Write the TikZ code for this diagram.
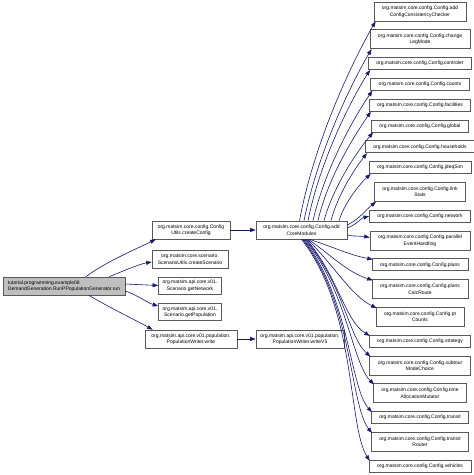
\documentclass[tikz,border=0pt]{standalone}
\usepackage{fontspec}
\setmainfont{Liberation Sans}
\usetikzlibrary{arrows.meta,calc}
\definecolor{edgeblue}{RGB}{25,25,112}
\definecolor{rootgray}{RGB}{191,191,191}
\tikzset{
  nbox/.style={draw=black!65, line width=0.7pt, fill=white, font=\fontsize{5}{6.5}\selectfont, align=center, inner xsep=8pt, inner ysep=0pt, minimum height=12pt},
  dbl/.style={minimum height=19pt},
  cbox/.style={nbox, inner xsep=0pt, minimum height=18pt},
  rootbox/.style={cbox, fill=rootgray, align=left},
  edge/.style={draw=edgeblue, line width=0.6pt, -{Triangle[length=5.5pt,width=4pt]}}
}
\begin{document}
\begin{tikzpicture}[x=1pt,y=-1pt]
\useasboundingbox (0,0) rectangle (474,475);
\fill[white] (0,0) rectangle (474,475);
% left part
\node[rootbox, minimum width=122pt] (r) at (64,286) {tutorial.programming.example08\\DemandGeneration.RunPPopulationGenerator.run};
\node[cbox, minimum width=78pt] (c1) at (191,230) {org.matsim.core.config.Config\\Utils.createConfig};
\node[cbox, minimum width=76pt] (c2) at (190,259) {org.matsim.core.scenario.\\ScenarioUtils.createScenario};
\node[cbox, minimum width=63pt, minimum height=17pt] (c3) at (190,285.5) {org.matsim.api.core.v01.\\Scenario.getNetwork};
\node[cbox, minimum width=63pt, minimum height=17pt] (c4) at (190,312) {org.matsim.api.core.v01.\\Scenario.getPopulation};
\node[cbox, minimum width=92pt] (c5) at (191,339) {org.matsim.api.core.v01.population.\\PopulationWriter.write};
\node[cbox, minimum width=91pt] (d1) at (301.5,230) {org.matsim.core.config.Config.add\\CoreModules};
\node[cbox, minimum width=88pt] (d2) at (300,339) {org.matsim.api.core.v01.population.\\PopulationWriter.writeV5};
% right column
\node[nbox,dbl] (t1) at (420,11.5) {org.matsim.core.config.Config.add\\ConfigConsistencyChecker};
\node[nbox,dbl] (t2) at (420,39.3) {org.matsim.core.config.Config.change\\LegMode};
\node[nbox] (t3) at (420,63.6) {org.matsim.core.config.Config.controler};
\node[nbox] (t4) at (420,84.4) {org.matsim.core.config.Config.counts};
\node[nbox] (t5) at (420,105.2) {org.matsim.core.config.Config.facilities};
\node[nbox] (t6) at (420,126) {org.matsim.core.config.Config.global};
\node[nbox] (t7) at (420,146.8) {org.matsim.core.config.Config.households};
\node[nbox] (t8) at (420,167.6) {org.matsim.core.config.Config.jdeqSim};
\node[nbox,dbl] (t9) at (420,191.9) {org.matsim.core.config.Config.link\\Stats};
\node[nbox] (t10) at (420,216.2) {org.matsim.core.config.Config.network};
\node[nbox,dbl] (t11) at (420,240.5) {org.matsim.core.config.Config.parallel\\EventHandling};
\node[nbox] (t12) at (420,264.8) {org.matsim.core.config.Config.plans};
\node[nbox,dbl] (t13) at (420,289.1) {org.matsim.core.config.Config.plans\\CalcRoute};
\node[nbox,dbl] (t14) at (420,316.9) {org.matsim.core.config.Config.pt\\Counts};
\node[nbox] (t15) at (420,341.2) {org.matsim.core.config.Config.strategy};
\node[nbox,dbl] (t16) at (420,365.5) {org.matsim.core.config.Config.subtour\\ModeChoice};
\node[nbox,dbl] (t17) at (420,393.3) {org.matsim.core.config.Config.time\\AllocationMutator};
\node[nbox] (t18) at (420,417.6) {org.matsim.core.config.Config.transit};
\node[nbox,dbl] (t19) at (420,441.9) {org.matsim.core.config.Config.transit\\Router};
\node[nbox] (t20) at (420,466.2) {org.matsim.core.config.Config.vehicles};
% root edges
\draw[edge] ($(r.north)+(22,0)$) .. controls +(20,-15) and +(-20,10) .. ($(c1.south west)+(4,0)$);
\draw[edge] ($(r.north east)+(-16,0)$) .. controls +(12,-5) and +(-12,2) .. ($(c2.west)+(0,3)$);
\draw[edge] ($(r.east)+(0,-2)$) -- (c3.west);
\draw[edge] ($(r.east)+(0,5)$) .. controls +(12,4) and +(-12,-4) .. ($(c4.north west)+(0,3)$);
\draw[edge] ($(r.south)+(25,0)$) .. controls +(20,12) and +(-18,-10) .. ($(c5.north west)+(8,0)$);
\draw[edge] (c1.east) -- (d1.west);
\draw[edge] (c5.east) -- (d2.west);
% addCoreModules upper edges
\draw[edge] ($(d1.north)+(-2,0)$) .. controls +(15,-80) and +(-23,40) .. ($(t1.south west)+(2,0)$);
\draw[edge] ($(d1.north)+(2.5,0)$) .. controls +(14,-69) and +(-20,34) .. ($(t2.south west)+(2,0)$);
\draw[edge] ($(d1.north)+(6.5,0)$) .. controls +(12,-60) and +(-19,30) .. ($(t3.south west)+(2,0)$);
\draw[edge] ($(d1.north)+(11.5,0)$) .. controls +(12,-52) and +(-18,26) .. ($(t4.south west)+(2,0)$);
\draw[edge] ($(d1.north)+(16.5,0)$) .. controls +(10,-44) and +(-15,22) .. ($(t5.south west)+(2,0)$);
\draw[edge] ($(d1.north)+(22.5,0)$) .. controls +(10,-36) and +(-15,18) .. ($(t6.south west)+(2,0)$);
\draw[edge] ($(d1.north)+(29.5,0)$) .. controls +(7,-27) and +(-11,14) .. ($(t7.south west)+(2,0)$);
\draw[edge] ($(d1.north)+(37.5,0)$) .. controls +(6,-19) and +(-10,9) .. ($(t8.south west)+(2,0)$);
\draw[edge] ($(d1.east)+(0,-5)$) .. controls +(12,-6) and +(-10,8) .. ($(t9.south west)+(2,0)$);
\draw[edge] ($(d1.east)+(0,-2)$) .. controls +(10,-4) and +(-8,2) .. (t10.west);
\draw[edge] ($(d1.east)+(0,5)$) .. controls +(10,2) and +(-10,-2) .. ($(t11.west)+(0,-3)$);
% addCoreModules lower edges
\draw[edge] ($(d1.south)+(8,0)$) .. controls +(25,8) and +(-25,-5) .. ($(t12.north west)+(1,1)$);
\draw[edge] ($(d1.south)+(7,0)$) .. controls +(25,18) and +(-25,-8) .. ($(t13.north west)+(1,1)$);
\draw[edge] ($(d1.south)+(6,0)$) .. controls +(28,28) and +(-25,-12) .. ($(t14.north west)+(1,1)$);
\draw[edge] ($(d1.south)+(5,0)$) .. controls +(32,38) and +(-25,-15) .. ($(t15.north west)+(1,1)$);
\draw[edge] ($(d1.south)+(4,0)$) .. controls +(38,45) and +(-22,-20) .. ($(t16.north west)+(1,1)$);
\draw[edge] ($(d1.south)+(3,0)$) .. controls +(42,50) and +(-22,-22) .. ($(t17.north west)+(1,1)$);
\draw[edge] ($(d1.south)+(2,0)$) .. controls +(46,58) and +(-22,-25) .. ($(t18.north west)+(1,1)$);
\draw[edge] ($(d1.south)+(1,0)$) .. controls +(50,64) and +(-22,-28) .. ($(t19.north west)+(1,1)$);
\draw[edge] ($(d1.south)+(0,0)$) .. controls +(55,70) and +(-22,-35) .. ($(t20.north west)+(1,1)$);
\end{tikzpicture}
\end{document}
